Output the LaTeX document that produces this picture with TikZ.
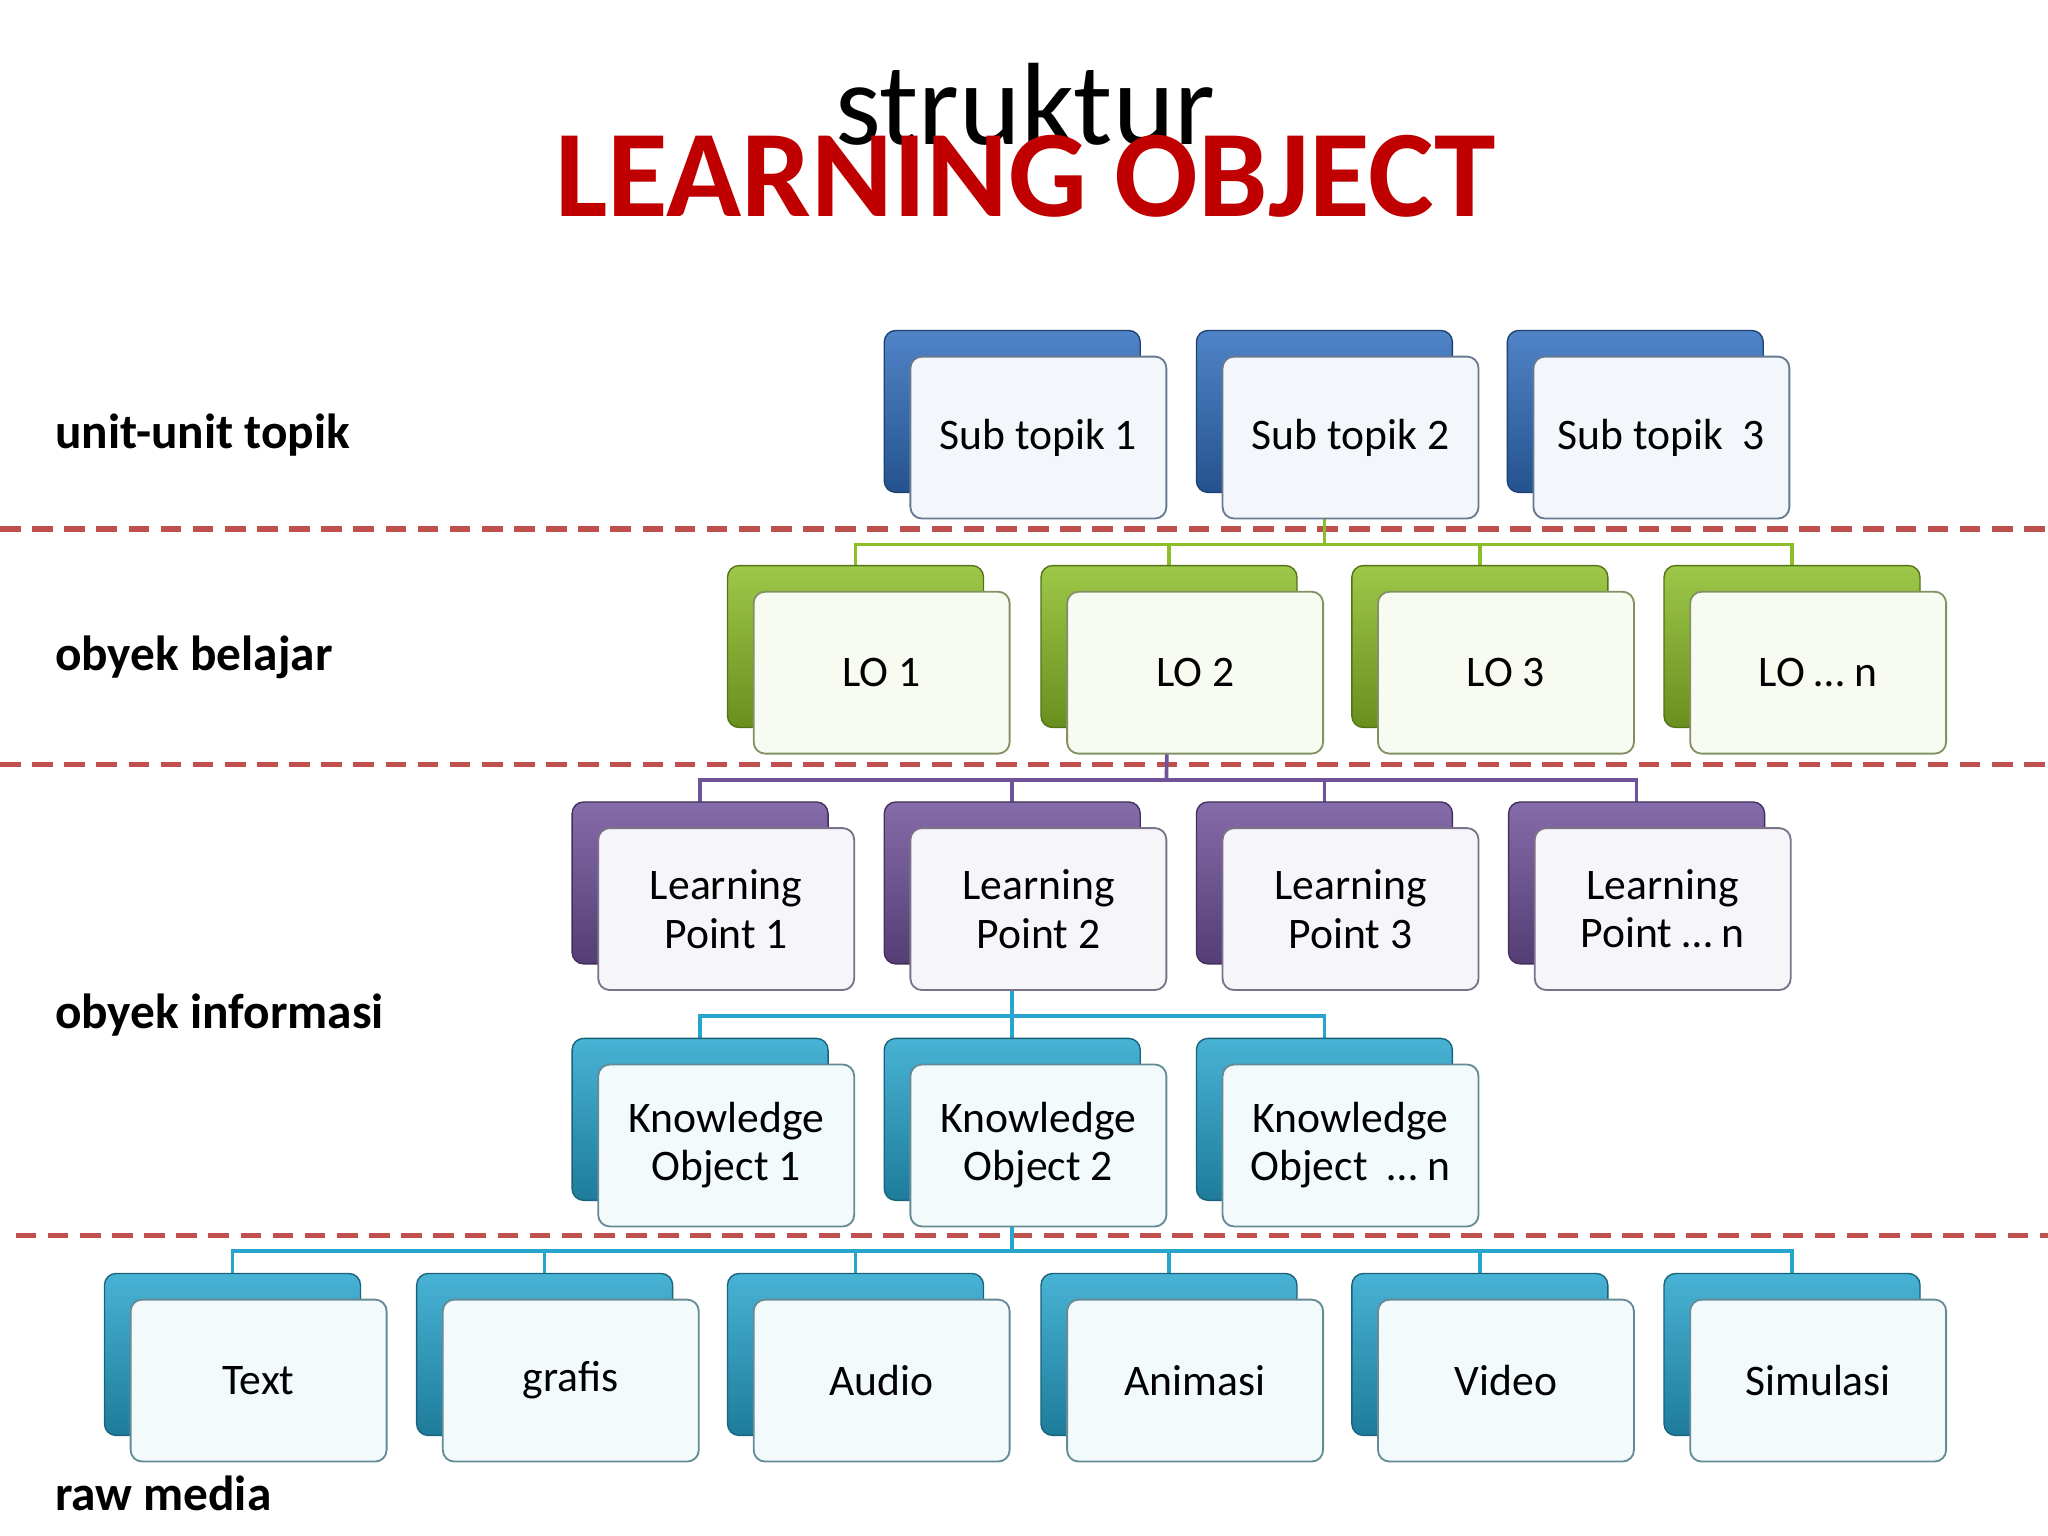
\documentclass[tikz,border=0pt]{standalone}
\usepackage{fontspec}
\setmainfont{Carlito}
\usetikzlibrary{backgrounds}
\definecolor{cblue}{RGB}{49,110,190}
\definecolor{cgreen}{RGB}{140,190,40}
\definecolor{cpurple}{RGB}{112,82,155}
\definecolor{ccyan}{RGB}{40,165,205}
\definecolor{dred}{RGB}{192,80,77}
\definecolor{tred}{RGB}{192,0,0}
\tikzset{
 back/.style={minimum width=3.92cm,minimum height=2.48cm,rounded corners=5pt,
   top color=#1!85!white,bottom color=#1!75!black,draw=#1!60!black,line width=0.6pt},
 front/.style={minimum width=3.92cm,minimum height=2.48cm,rounded corners=5pt,
   fill=#1!6!white,draw=#1!30!gray,line width=0.8pt,align=center,font=\fontsize{19}{21}\selectfont},
 lbl/.style={anchor=west,font=\bfseries\fontsize{21.5}{23}\selectfont},
 sep/.style={dred,line width=2.2pt,dash pattern=on 9pt off 5pt},
 con/.style={line width=1.6pt}
}
\newcommand\dbox[5]{\node[back=#5] (#1b) at (#2-20,#3-20) {};\node[front=#5] (#1) at (#2,#3) {#4};}
\begin{document}
\begin{tikzpicture}[x=0.02cm,y=-0.02cm]
\useasboundingbox (0,0) rectangle (1568,1176);
\node[font=\fontsize{51}{53}\selectfont] (t1) at (785,80) {struktur};
\node[font=\bfseries\fontsize{54}{56}\selectfont,text=tred] (t2) at (785,135) {LEARNING OBJECT};
\node[lbl] (u) at (36,333) {unit-unit topik};
\node[lbl] (o) at (36,503) {obyek belajar};
\node[lbl] (i) at (36,777) {obyek informasi};
\node[lbl] (r) at (36,1143) {raw media};
\dbox{s1}{795}{335}{Sub topik 1}{cblue}
\dbox{s2}{1034}{335}{Sub topik 2}{cblue}
\dbox{s3}{1272}{335}{Sub topik\ \ 3}{cblue}
\dbox{l1}{675}{515}{LO 1}{cgreen}
\dbox{l2}{915}{515}{LO 2}{cgreen}
\dbox{l3}{1153}{515}{LO 3}{cgreen}
\dbox{l4}{1392}{515}{LO … n}{cgreen}
\dbox{p1}{556}{696}{Learning\\Point 1}{cpurple}
\dbox{p2}{795}{696}{Learning\\Point 2}{cpurple}
\dbox{p3}{1034}{696}{Learning\\Point 3}{cpurple}
\dbox{p4}{1273}{696}{Learning\\Point … n}{cpurple}
\dbox{k1}{556}{877}{Knowledge\\Object 1}{ccyan}
\dbox{k2}{795}{877}{Knowledge\\Object 2}{ccyan}
\dbox{k3}{1034}{877}{Knowledge\\Object\ \ … n}{ccyan}
\dbox{m1}{198}{1057}{Text}{ccyan}
\dbox{m2}{437}{1057}{grafis}{ccyan}
\dbox{m3}{675}{1057}{Audio}{ccyan}
\dbox{m4}{915}{1057}{Animasi}{ccyan}
\dbox{m5}{1153}{1057}{Video}{ccyan}
\dbox{m6}{1392}{1057}{Simulasi}{ccyan}
\begin{scope}[on background layer]
\fill[white] (0,0) rectangle (1568,1176);
\draw[sep] (0,405) -- (1568,405);
\draw[sep] (0,585) -- (1568,585);
\draw[sep] (12,946) -- (1568,946);
\coordinate (j1) at (1014,417);
\draw[con,cgreen] (s2b.center) -- (j1);
\foreach \c in {l1b,l2b,l3b,l4b} \draw[con,cgreen] (j1) -| (\c.center);
\coordinate (j2) at (893,597);
\draw[con,cpurple] (l2b.center) -- (j2);
\foreach \c in {p1b,p2b,p3b,p4b} \draw[con,cpurple] (j2) -| (\c.center);
\coordinate (j3) at (775,778);
\draw[con,ccyan] (p2b.center) -- (j3);
\foreach \c in {k1b,k2b,k3b} \draw[con,ccyan] (j3) -| (\c.center);
\coordinate (j4) at (775,958);
\draw[con,ccyan] (k2b.center) -- (j4);
\foreach \c in {m1b,m2b,m3b,m4b,m5b,m6b} \draw[con,ccyan] (j4) -| (\c.center);
\end{scope}
\end{tikzpicture}
\end{document}
